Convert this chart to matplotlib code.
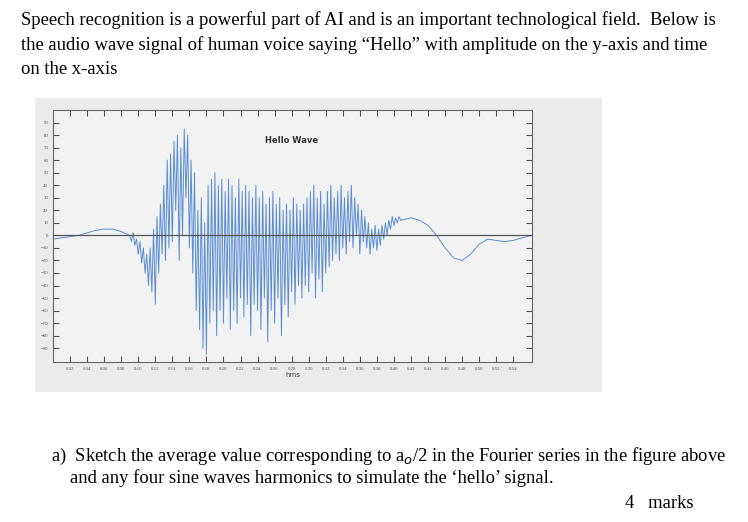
import matplotlib.pyplot as plt
import numpy as np

plt.rcParams['font.family'] = ['Liberation Serif', 'DejaVu Serif']

# smooth start of the signal
t_start = [0.0, 0.01, 0.02, 0.03, 0.04, 0.05, 0.06, 0.07, 0.08]
a_start = [-3, -2, -1, 0, 2, 4, 5, 5, 3]

# dense voiced part, one value every 0.002 s from 0.09 to 0.408
a_dense = [0, -5, 2, -8, -3,
           -15, -5, -22, -10, -30,
           -15, -40, -10, -45, 5,
           -55, 15, -30, 25, -15,
           40, -20, 60, -10, 65,
           -5, 75, 20, 80, -20,
           70, 0, 85, 30, 80,
           -10, 60, -30, 50, -60,
           20, -75, 30, -90, 10,
           -95, 40, -70, 45, -60,
           50, -80, 40, -60, 45,
           -70, 35, -50, 45, -75,
           40, -60, 30, -70, 45,
           -50, 35, -65, 40, -55,
           35, -80, 30, -55, 40,
           -60, 30, -75, 35, -50,
           25, -85, 30, -60, 35,
           -70, 25, -50, 30, -80,
           20, -55, 25, -65, 20,
           -45, 30, -55, 25, -40,
           20, -50, 25, -40, 30,
           -45, 35, -30, 40, -50,
           30, -35, 35, -45, 25,
           -30, 35, -25, 40, -20,
           30, -15, 35, -20, 40,
           -10, 30, -15, 35, -5,
           40, -10, 30, 0, 25,
           -15, 20, -5, 15, -10,
           10, -15, 5, -10, 8,
           -12, 5, -8, 8, -3,
           10, 0, 12, 5, 15,
           8, 14, 10, 15, 12]
t_dense = 0.09 + 0.002 * np.arange(len(a_dense))

# smooth tail
t_end = [0.42, 0.43, 0.44, 0.45, 0.46, 0.47, 0.48, 0.49, 0.50, 0.51, 0.52, 0.53, 0.54, 0.55, 0.562]
a_end = [14, 12, 8, 0, -10, -18, -20, -15, -7, -3, -4, -5, -4, -2, 0]

t = np.concatenate([t_start, t_dense, t_end])
a = np.concatenate([a_start, a_dense, a_end])

xticks = [round(0.02 * i, 2) for i in range(1, 28)]
yticks = list(range(-90, 100, 10))

fig = plt.figure(figsize=(7.48, 5.22), dpi=100)

# grey panel behind the chart
bg = fig.add_axes([35/748, 1-392/522, 567/748, 294/522])
bg.set_facecolor('#ebebeb')
bg.set_xticks([])
bg.set_yticks([])
for s in bg.spines.values():
    s.set_visible(False)

fs = 13.4
fig.text(0.028, 1-20/522, 'Speech recognition is a powerful part of AI and is an important technological field.  Below is',
         fontsize=fs, va='center')
fig.text(0.028, 1-45/522, 'the audio wave signal of human voice saying \u201cHello\u201d with amplitude on the y-axis and time',
         fontsize=fs, va='center')
fig.text(0.028, 1-70/522, 'on the x-axis', fontsize=fs, va='center')
fig.text(0.068, 1-456/522, 'a)  Sketch the average value corresponding to a$_o$/2 in the Fourier series in the figure above',
         fontsize=fs, va='center')
fig.text(0.093, 1-478/522, 'and any four sine waves harmonics to simulate the \u2018hello\u2019 signal.',
         fontsize=fs, va='center')
fig.text(0.835, 1-503/522, '4   marks', fontsize=fs, va='center')

ax = fig.add_axes([53/748, 1-362/522, 479/748, 252/522])
ax.set_facecolor('#f2f2f2')
ax.plot(t, a, color='#5b8dd6', lw=0.7)
ax.axhline(0, color='#555555', lw=0.9)
ax.set_xlim(0, 0.562)
ax.set_ylim(-101, 100)
ax.set_xticks(xticks)
ax.set_xticklabels(['%.2f' % v for v in xticks])
ax.set_yticks(yticks)
ax.tick_params(direction='in', top=True, right=True, labelsize=3.5, colors='#555555', length=4)
for s in ax.spines.values():
    s.set_color('#666666')
ax.set_xlabel('hms', fontsize=5, color='#444444', family='DejaVu Sans', labelpad=1)
ax.text(0.28, 76, 'Hello Wave', fontsize=6, fontweight='bold', family='DejaVu Sans',
        ha='center', va='center', color='#333333')

fig.savefig('out.png', dpi=100)
